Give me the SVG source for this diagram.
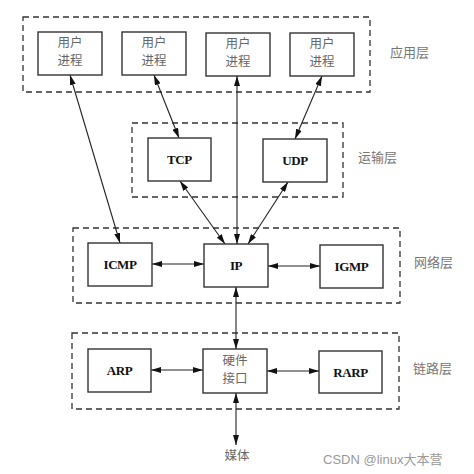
<svg xmlns="http://www.w3.org/2000/svg" width="474" height="474" viewBox="0 0 474 474">
<defs>
<style>
.layer{fill:none;stroke:#333;stroke-width:1.3;stroke-dasharray:6 4}
.box{fill:#fff;stroke:#333;stroke-width:1.4}
.zh{font-family:"Noto Sans CJK SC","Noto Sans",sans-serif;font-size:12.5px;fill:#666;text-anchor:middle}
.en{font-family:"Liberation Serif",serif;font-weight:bold;font-size:13px;fill:#111;text-anchor:middle;letter-spacing:-0.4px}
.lab{font-family:"Noto Sans CJK SC","Noto Sans",sans-serif;font-size:13px;fill:#777}
.wm{font-family:"Liberation Sans","Noto Sans CJK SC",sans-serif;font-size:13px;fill:#999}
.c{fill:none;stroke:#222;stroke-width:1.1;marker-start:url(#ah);marker-end:url(#ah)}
</style>
<marker id="ah" viewBox="0 0 10 6" refX="10" refY="3" markerUnits="userSpaceOnUse" markerWidth="10" markerHeight="6" orient="auto-start-reverse">
<path d="M0,0 L10,3 L0,6 Z" fill="#111"/>
</marker>
</defs>

<g id="layers">
<rect id="app-layer" class="layer" x="23" y="17" width="347" height="75"/>
<rect id="transport-layer" class="layer" x="132" y="123" width="211" height="74"/>
<rect id="network-layer" class="layer" x="73" y="228" width="327" height="75"/>
<rect id="link-layer" class="layer" x="72" y="333" width="327" height="76"/>
<text class="lab" x="390" y="57">应用层</text>
<text class="lab" x="358" y="162">运输层</text>
<text class="lab" x="414" y="267">网络层</text>
<text class="lab" x="413" y="373">链路层</text>
</g>

<g id="connectors">
<line class="c" x1="70" y1="75" x2="120" y2="243"/>
<line class="c" x1="154" y1="75" x2="179" y2="138"/>
<line class="c" x1="237" y1="76" x2="237" y2="244"/>
<line class="c" x1="322" y1="76" x2="295" y2="139"/>
<line class="c" x1="180" y1="181" x2="225" y2="244"/>
<line class="c" x1="288" y1="182" x2="248" y2="244"/>
<line class="c" x1="152" y1="264" x2="204" y2="264"/>
<line class="c" x1="268" y1="266" x2="320" y2="266"/>
<line class="c" x1="236" y1="287" x2="236" y2="349"/>
<line class="c" x1="151" y1="370" x2="203" y2="370"/>
<line class="c" x1="267" y1="371" x2="319" y2="371"/>
<line class="c" x1="236" y1="393" x2="236" y2="445"/>
</g>

<g id="proc1"><rect class="box" x="38" y="32" width="64" height="43"/><text class="zh" x="70" y="47">用户</text><text class="zh" x="70" y="65">进程</text></g>
<g id="proc2"><rect class="box" x="122" y="32" width="64" height="43"/><text class="zh" x="154" y="47">用户</text><text class="zh" x="154" y="65">进程</text></g>
<g id="proc3"><rect class="box" x="206" y="33" width="64" height="43"/><text class="zh" x="238" y="48">用户</text><text class="zh" x="238" y="66">进程</text></g>
<g id="proc4"><rect class="box" x="290" y="33" width="64" height="43"/><text class="zh" x="322" y="48">用户</text><text class="zh" x="322" y="66">进程</text></g>

<g id="tcp"><rect class="box" x="148" y="138" width="63" height="43"/><text class="en" x="179.5" y="164">TCP</text></g>
<g id="udp"><rect class="box" x="263" y="139" width="64" height="43"/><text class="en" x="295" y="165">UDP</text></g>

<g id="icmp"><rect class="box" x="88" y="243" width="64" height="43"/><text class="en" x="120" y="269">ICMP</text></g>
<g id="ip"><rect class="box" x="204" y="244" width="64" height="43"/><text class="en" x="236" y="270">IP</text></g>
<g id="igmp"><rect class="box" x="320" y="245" width="63" height="43"/><text class="en" x="351.5" y="271">IGMP</text></g>

<g id="arp"><rect class="box" x="88" y="349" width="63" height="43"/><text class="en" x="119.5" y="375">ARP</text></g>
<g id="hw"><rect class="box" x="203" y="349" width="64" height="44"/><text class="zh" x="235" y="365">硬件</text><text class="zh" x="235" y="383">接口</text></g>
<g id="rarp"><rect class="box" x="319" y="351" width="63" height="42"/><text class="en" x="350.5" y="376.5">RARP</text></g>

<g id="media"><text class="zh" x="237" y="460">媒体</text></g>

<text class="wm" x="323" y="464">CSDN @linux大本营</text>
</svg>
